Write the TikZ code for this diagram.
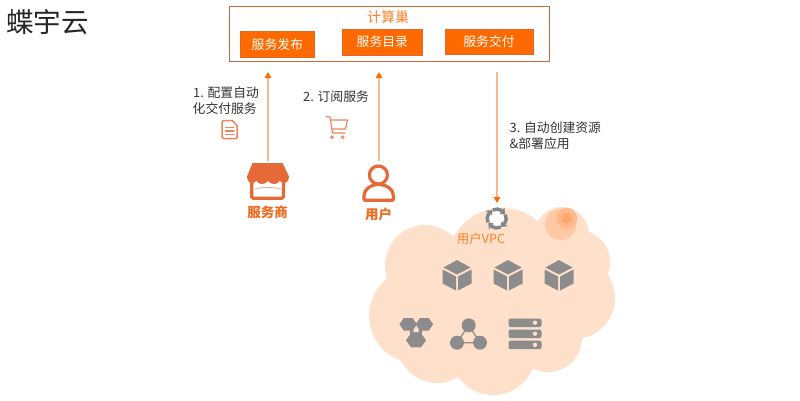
\documentclass[tikz,border=0pt]{standalone}
\usepackage{fontspec}
\setmainfont{Noto Sans CJK SC}
\usetikzlibrary{arrows.meta}
\definecolor{org}{HTML}{FF6A00}
\definecolor{lineorg}{HTML}{F8B88E}
\definecolor{edge}{HTML}{C8693A}
\definecolor{icono}{HTML}{E56A37}
\definecolor{iconl}{HTML}{EC8560}
\definecolor{cloudc}{HTML}{FFE0CA}
\definecolor{grayi}{HTML}{8C8C8C}
\definecolor{grayv}{HTML}{80878C}
\definecolor{txt}{HTML}{333333}
\definecolor{glowa}{HTML}{FFC9A3}
\definecolor{glowb}{HTML}{FFB98D}
\definecolor{glowc}{HTML}{FFA870}
\tikzset{
 x=1pt,y=-1pt,
 svc/.style={draw=edge!60!org,line width=.6pt,fill=org,text=white,font=\fontsize{12.8}{14}\selectfont,inner sep=0pt,anchor=center},
 lab/.style={text=txt,font=\fontsize{12.8}{15.5}\selectfont,inner sep=0pt,align=left},
 olab/.style={text=icono!60!org,font=\bfseries\fontsize{13.5}{15}\selectfont,inner sep=0pt},
 flow/.style={draw=lineorg,line width=1.5pt,-{Triangle[color=org,length=6pt,width=6.5pt]}},
 blob/.style={fill=cloudc,draw=none},
 cubef/.style={fill=grayi,draw=none},
 iconline/.style={draw=iconl,line width=1.5pt,line join=round,line cap=round},
}
\newcommand{\cubeicon}[2]{%
 \begin{scope}[shift={(#1,#2)}]
 \fill[cubef] (0,-15)--(13.5,-7.5)--(0,-0.5)--(-13.5,-7.5)--cycle;
 \fill[cubef] (-14.5,-5.5)--(-1,1.5)--(-1,15.5)--(-14.5,8.5)--cycle;
 \fill[cubef] (14.5,-5.5)--(1,1.5)--(1,15.5)--(14.5,8.5)--cycle;
 \end{scope}}
\newcommand{\hexicon}[4]{%
 \begin{scope}[shift={(#1,#2)}]
 \fill[grayi] (-#3,0)--(-#3/2,-#4)--(#3/2,-#4)--(#3,0)--(#3/2,#4)--(-#3/2,#4)--cycle;
 \end{scope}}
\newcommand{\srvicon}[1]{%
 \fill[grayi,rounded corners=2pt] (508.5,#1) rectangle (541.5,#1+8.5);
 \fill[cloudc] (535,#1+4.2) circle (2.2);}
\begin{document}
\begin{tikzpicture}
\useasboundingbox (0,0) rectangle (800,400);
\fill[white] (0,0) rectangle (800,400);
% title
\node[anchor=west,inner sep=0pt,text=black!85,font=\fontsize{27.5}{30}\selectfont] (title) at (6,22) {蝶宇云};
% compute nest
\node[draw=edge,line width=.8pt,minimum width=319.5pt,minimum height=55pt,inner sep=0pt] (nest) at (389.5,34) {};
\node[text=org!85!white,font=\fontsize{14}{15}\selectfont,inner sep=0pt] (nesttitle) at (388,17) {计算巢};
\node[svc,minimum width=74.5pt,minimum height=26.5pt] (publish) at (277.3,44.3) {服务发布};
\node[svc,minimum width=80.5pt,minimum height=26pt] (catalog) at (382.3,42) {服务目录};
\node[svc,minimum width=88pt,minimum height=25pt] (deliver) at (489,41.5) {服务交付};
% cloud
\foreach \cx/\cy/\r in {425/265/40,502/263/55,562/234/27,578/262/32,574/298/41,548/338/34,493/352/43,437/343/40,416/316/47,480/300/60,530/290/55}
  \fill[blob] (\cx,\cy) circle (\r);
% orange glow
\fill[glowa] (560.7,224.3) circle (15.8);
\fill[glowb] (566.7,218.3) circle (10.5);
\fill[glowc] (566.7,218.3) circle (5.6);
% connector ends
\coordinate (provtop) at (268,161);
\coordinate (provend) at (268,72);
\coordinate (usertop) at (379,161);
\coordinate (userend) at (379,72);
\coordinate (delstart) at (497,72);
\coordinate (vpctop) at (497,203);
\draw[flow] (provtop) -- (provend);
\draw[flow] (usertop) -- (userend);
\draw[flow] (delstart) -- (vpctop);
% labels
\node[lab,anchor=west] (step1) at (192.5,100.5) {\hspace{.5pt}1. 配置自动\\化交付服务};
\node[lab,anchor=west] (step2) at (303,97) {2. 订阅服务};
\node[lab,anchor=west] (step3) at (509.5,135.5) {3. 自动创建资源\\\&部署应用};
% doc icon
\draw[iconline] (232,120.5)--(224.5,120.5)..controls (223,120.5) and (222,121) ..(222,122.5)--(222,136.5)..controls (222,138) and (223,138.7)..(224.5,138.7)--(235,138.7)..controls (236.5,138.7) and (237.2,138)..(237.2,136.5)--(237.2,125.5)--cycle;
\draw[iconline,line width=1.2pt] (225.5,127.5)--(234,127.5) (225.5,131)--(234,131) (225.5,134.5)--(234,134.5);
% cart icon
\draw[iconline,line width=1.2pt] (326,116.5)--(330,117)--(332.5,133)--(345,133);
\draw[iconline,line width=1.2pt] (330.5,120)--(347.5,120)--(345.5,129)--(332,129);
\draw[iconline,line width=1pt] (332,137.2) circle (1.5) (342.7,137.2) circle (1.5);
% provider icon
\draw[icono,line width=3.2pt,rounded corners=1.5pt] (251.8,180) -- (251.8,198.3) -- (283.4,198.3) -- (283.4,180);
\fill[icono] (252.5,163) -- (282.5,163) -- (289,176.5) .. controls (289.5,182) and (284,185.5) .. (279.5,181) .. controls (277,185) and (271,185) .. (268,181) .. controls (265,185) and (259,185) .. (256.5,181) .. controls (252,185.5) and (246.5,182) .. (247,176.5) -- cycle;
\draw[iconl!70!white,line width=.9pt] (255,189) .. controls (262,187) and (274,187) .. (281,189);
\node[olab] (provider) at (267.5,212) {服务商};
% user icon
\draw[icono,line width=3.2pt,rounded corners=1pt] (364,200.2) -- (364,197) .. controls (364,189) and (371,184.5) .. (378.5,184.5) .. controls (386,184.5) and (393.5,189) .. (393.5,197) -- (393.5,200.2) -- cycle;
\fill[white] (378.4,175) circle (9);
\draw[icono,line width=3.2pt] (378.4,175) circle (9);
\node[olab] (user) at (378.5,214) {用户};
% vpc icon
\fill[white] (496.7,209.5) -- (505.7,218.5) -- (496.7,227.5) -- (487.7,218.5) -- cycle;
\foreach \a in {0,90,180,270}{
 \begin{scope}[shift={(496.7,218.5)},rotate=\a]
  \draw[grayv,line width=3.4pt] (-25:9.5) arc[start angle=-25,end angle=35,radius=9.5];
  \fill[grayv] (35:5.5) -- (35:13.5) -- (62:9.5) -- cycle;
 \end{scope}}
\node[text=org!85!white,font=\fontsize{12.5}{14}\selectfont,inner sep=0pt] (vpc) at (481,239) {用户VPC};
% cubes
\cubeicon{457}{275}
\cubeicon{508}{275}
\cubeicon{559}{275}
% hex cluster
\hexicon{408.2}{324.3}{8.8}{6.3}
\hexicon{424.3}{324.3}{8.8}{6.3}
\hexicon{416}{340.3}{10}{7}
\fill[grayi] (410,330) rectangle (422,334);
\fill[cloudc] (416,327) -- (419.2,332) -- (412.8,332) -- cycle;
% graph
\draw[grayi,line width=1.3pt] (468.7,325.3) -- (457,342.7) -- (480,342.7) -- cycle;
\fill[grayi] (468.7,325.3) circle (7) (457,342.7) circle (7) (480,342.7) circle (7);
% server
\srvicon{318.5}
\srvicon{329.5}
\srvicon{340.7}
\end{tikzpicture}
\end{document}
